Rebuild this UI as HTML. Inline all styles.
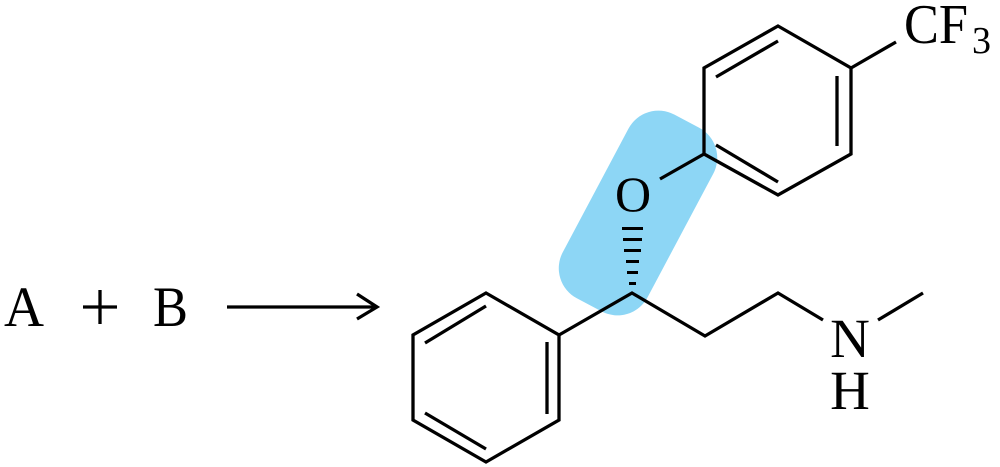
<!DOCTYPE html>
<html><head><meta charset="utf-8"><style>
html,body{margin:0;padding:0;background:#fff;}
svg{display:block;}
</style></head><body>
<svg width="1000" height="467" viewBox="0 0 1000 467" xmlns="http://www.w3.org/2000/svg" font-family="'Liberation Serif', 'Times New Roman', Times, serif">
<rect x="-48" y="-104" width="96" height="208" rx="34" fill="#8dd6f5" transform="translate(638,213) rotate(28)"/>
<g stroke="#000" stroke-width="3.3" fill="none" stroke-linecap="butt" stroke-linejoin="miter">
<polygon points="778,26 851,68 851,154 778,195 704,154 704,68"/>
<line x1="716" y1="77" x2="778" y2="41"/>
<line x1="837" y1="76" x2="837" y2="146"/>
<line x1="716" y1="145" x2="778" y2="182"/>
<line x1="851" y1="68" x2="896" y2="42"/>
<line x1="660" y1="179" x2="704" y2="154"/>
<polygon points="486,293 559,335 559,420 486,462 413,420 413,335"/>
<line x1="425" y1="343" x2="486" y2="306"/>
<line x1="547" y1="342" x2="547" y2="414"/>
<line x1="425" y1="413" x2="486" y2="449"/>
<polyline points="559,335 632,293 705,336 778,293 823,320"/>
<line x1="878" y1="320" x2="923" y2="293"/>
<line x1="227" y1="307" x2="376" y2="307"/>
<polyline points="357,294 377,307 357,319"/>
<line x1="83" y1="307" x2="117" y2="307"/>
<line x1="100" y1="290" x2="100" y2="324"/>
</g>
<g fill="#000">
<rect x="622" y="227" width="21" height="3"/>
<rect x="623" y="238" width="19" height="3"/>
<rect x="624" y="249" width="17" height="3"/>
<rect x="626" y="260" width="13" height="3"/>
<rect x="627" y="271" width="11" height="3"/>
<rect x="629" y="282" width="7" height="3"/>
</g>
<g fill="#000">
<text x="633" y="211" font-size="50" text-anchor="middle">O</text>
<text x="850" y="357" font-size="55" text-anchor="middle">N</text>
<text x="850" y="409" font-size="55" text-anchor="middle">H</text>
<text x="904" y="43" font-size="56" textLength="64" lengthAdjust="spacingAndGlyphs">CF</text>
<text x="972" y="53" font-size="38">3</text>
<text x="4" y="326" font-size="57" textLength="40" lengthAdjust="spacingAndGlyphs">A</text>
<text x="153" y="326" font-size="57" textLength="35" lengthAdjust="spacingAndGlyphs">B</text>
</g>
</svg>
</body></html>
